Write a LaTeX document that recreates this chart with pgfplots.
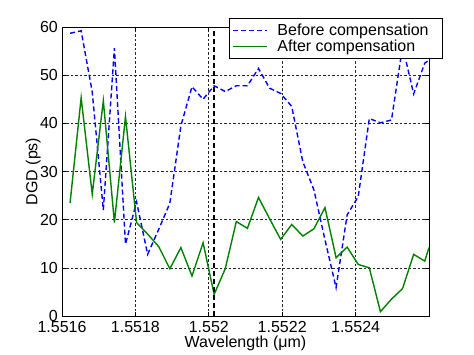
\documentclass[border=0pt]{standalone}
\usepackage{fontspec}
\setmainfont{Liberation Sans}
\usepackage{pgfplots}
\pgfplotsset{compat=1.18}
\definecolor{mblue}{RGB}{0,0,255}
\definecolor{mgreen}{RGB}{0,128,0}
\newcommand{\fs}{\fontsize{16}{18}\selectfont}
\begin{document}
\begin{tikzpicture}
\useasboundingbox (-62pt,-39pt) rectangle (412pt,316pt);
\begin{axis}[
  scale only axis, width=367pt, height=289pt,
  xmin=1.5516, xmax=1.5526, ymin=0, ymax=60,
  xtick={1.5516,1.5518,1.552,1.5522,1.5524},
  xticklabels={1.5516,1.5518,1.552,1.5522,1.5524},
  ytick={0,10,20,30,40,50,60},
  yticklabels={0,10,20,30,40,50,60},
  tick align=inside, major tick length=4pt,
  tick style={black, line width=0.6pt},
  axis line style={black, line width=0.8pt},
  grid=major,
  major grid style={black!85, line width=0.6pt, dash pattern=on 2.5pt off 2pt},
  xticklabel style={font=\fs, anchor=base, yshift=-17pt},
  yticklabel style={font=\fs, anchor=east, inner sep=0pt, xshift=-4pt},
  xlabel={Wavelength (μm)},
  ylabel={DGD (ps)},
  xlabel style={font=\fs, at={(axis description cs:0.5,-0.1107)}, anchor=base},
  ylabel style={font=\fs, at={(axis description cs:-0.0673,0.5)}, anchor=base},
  legend cell align=left,
  legend image code/.code={\draw[#1] (0pt,0pt) -- (34pt,0pt);},
  legend style={at={(1.038,1.031)}, anchor=north east, font=\fs,
    draw=black, line width=0.6pt, fill=white, inner xsep=3.5pt, inner ysep=4pt,
    row sep=0pt, column sep=8pt, nodes={inner sep=1.5pt}},
]
\addplot[mblue, line width=1.4pt, dash pattern=on 5pt off 3pt] coordinates {
(1.551622,58.7) (1.5516522,59.2) (1.5516824,46.5) (1.5517126,22.0)
(1.5517428,55.6) (1.551773,14.9) (1.5518032,23.7) (1.5518334,12.8)
(1.5518636,18.0) (1.5518938,23.4) (1.551924,39.5) (1.5519542,47.6)
(1.5519844,45.0) (1.5520146,47.8) (1.5520448,46.6) (1.552075,47.8)
(1.5521052,47.8) (1.5521354,51.4) (1.5521656,47.3) (1.5521958,46.2)
(1.552226,43.5) (1.5522562,32.0) (1.5522864,26.2) (1.5523166,15.8)
(1.5523468,5.9) (1.552377,21.0) (1.5524072,24.8) (1.5524374,41.0)
(1.5524676,40.1) (1.5524978,40.7) (1.552528,56.0) (1.5525582,46.1)
(1.5525884,52.5) (1.5526,53.1)
};
\addlegendentry{Before compensation\hspace*{9pt}}
\addplot[mgreen, line width=1.4pt] coordinates {
(1.551622,23.5) (1.5516522,45.3) (1.5516824,25.3) (1.5517126,44.7)
(1.5517428,19.4) (1.551773,41.4) (1.5518032,19.4) (1.5518334,17.0)
(1.5518636,14.4) (1.5518938,9.8) (1.551924,14.2) (1.5519542,8.3)
(1.5519844,15.2) (1.5520146,4.5) (1.5520448,9.8) (1.552075,19.6)
(1.5521052,18.2) (1.5521354,24.6) (1.5521656,20.2) (1.5521958,15.9)
(1.552226,19.0) (1.5522562,16.6) (1.5522864,18.1) (1.5523166,22.5)
(1.5523468,12.1) (1.552377,14.3) (1.5524072,10.7) (1.5524374,10.0)
(1.5524676,0.9) (1.5524978,3.5) (1.552528,5.7) (1.5525582,12.8)
(1.5525884,11.4) (1.5526,14.2)
};
\addlegendentry{After compensation}
\addplot[black, line width=1.4pt, dash pattern=on 5pt off 3pt, forget plot] coordinates {(1.5520146,0) (1.5520146,60)};
\end{axis}
\end{tikzpicture}
\end{document}
